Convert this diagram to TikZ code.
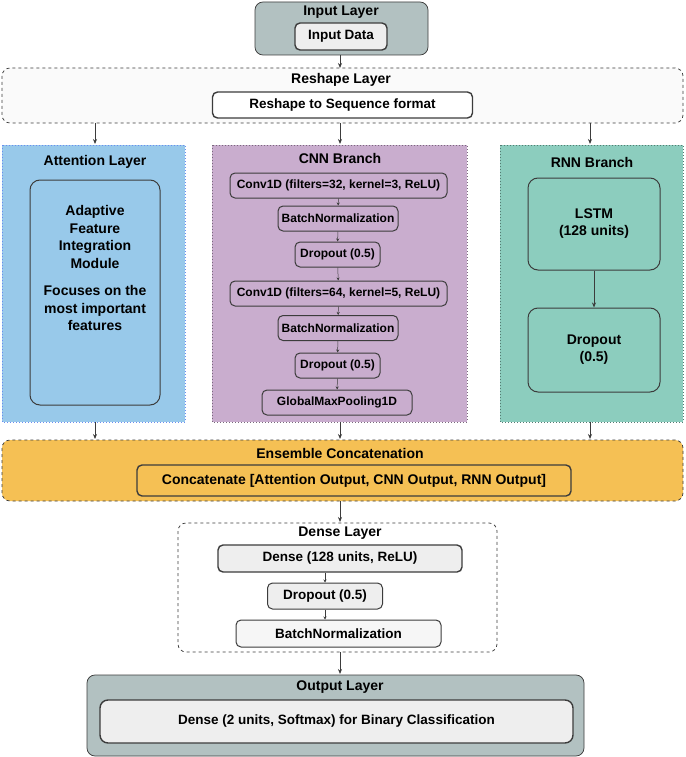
\documentclass[tikz,border=0pt]{standalone}
\usepackage{fontspec}
\setmainfont{Liberation Sans}
\usetikzlibrary{positioning,arrows.meta}

\definecolor{grayteal}{RGB}{178,193,193}
\definecolor{attblue}{RGB}{152,201,234}
\definecolor{cnnpurple}{RGB}{201,173,206}
\definecolor{rnnteal}{RGB}{140,205,190}
\definecolor{ensorange}{RGB}{245,192,84}
\definecolor{boxgray}{RGB}{238,238,238}
\definecolor{edgegray}{RGB}{60,60,60}

\tikzset{every picture/.style={line width=0.75pt}}
\tikzset{
  panel/.style={draw=edgegray, rounded corners=8pt},
  block/.style={draw=edgegray, line width=1.4pt, rounded corners=5pt, fill=boxgray, font=\bfseries\fontsize{13.5}{16}\selectfont},
  cblock/.style={block, line width=1pt, fill=cnnpurple, font=\bfseries\fontsize{12}{14}\selectfont, minimum height=25},
  ttl/.style={font=\bfseries\fontsize{14}{16}\selectfont},
  arr/.style={-{Stealth[length=5pt,width=4pt]}, draw=edgegray, line width=0.8pt},
  sarr/.style={-{Stealth[length=3pt,width=3pt]}, draw=edgegray, line width=0.5pt}
}

\begin{document}
\begin{tikzpicture}[x=1pt,y=1pt,yscale=-1]
	\useasboundingbox (0,0) rectangle (685,757);

	%Panels
	\draw [panel, fill=grayteal] (255,2) rectangle (428,55);
	\draw [panel, dashed, fill=gray!4] (2,68) rectangle (683,123);
	\draw [draw=attblue!70!blue, dotted, line width=1pt, fill=attblue] (2,145) rectangle (185,422);
	\draw [draw=cnnpurple!60!black, dotted, line width=1pt, fill=cnnpurple] (212,145) rectangle (467,422);
	\draw [draw=rnnteal!60!black, dotted, line width=1pt, fill=rnnteal] (500,145) rectangle (683,422);
	\draw [panel, dashed, fill=ensorange] (2,440) rectangle (683,501);
	\draw [panel, dashed, fill=white] (178,523) rectangle (497,652);
	\draw [panel, fill=grayteal] (87,675) rectangle (584,756);

	%Titles
	\node [ttl] (tin) at (341,12) {Input Layer};
	\node [ttl] (tres) at (341,80) {Reshape Layer};
	\node [ttl] (tatt) at (95,162) {Attention Layer};
	\node [ttl] (tcnn) at (340,158) {CNN Branch};
	\node [ttl] (trnn) at (592,162) {RNN Branch};
	\node [ttl] (tens) at (340,453) {Ensemble Concatenation};
	\node [ttl] (tden) at (340,533) {Dense Layer};
	\node [ttl] (tout) at (340,687) {Output Layer};

	%Blocks
	\node [block, minimum width=92, minimum height=27] (indata) at (341,36.5) {Input Data};
	\node [block, fill=white, minimum width=260, minimum height=26] (reshape) at (342.5,105) {Reshape to Sequence format};

	\node [block, line width=1pt, fill=attblue, minimum width=130, minimum height=225, rounded corners=10pt] (attmod) at (95,292.5) {};
	\node [font=\bfseries\fontsize{14}{17.5}\selectfont, align=center, anchor=north] (atttxt) at (95,202) {Adaptive\\Feature\\Integration\\Module\\[10pt]Focuses on the\\most important\\features};

	\node [cblock, minimum width=217] (conva) at (338.5,185.5) {Conv1D (filters=32, kernel=3, ReLU)};
	\node [cblock, minimum width=120] (bna) at (338,218.5) {BatchNormalization};
	\node [cblock, minimum width=85] (dropa) at (337.5,254.5) {Dropout (0.5)};
	\node [cblock, minimum width=217] (convb) at (338.5,293.5) {Conv1D (filters=64, kernel=5, ReLU)};
	\node [cblock, minimum width=120] (bnb) at (338,328) {BatchNormalization};
	\node [cblock, minimum width=85] (dropb) at (337.5,365.5) {Dropout (0.5)};
	\node [cblock, minimum width=150] (gmp) at (337,402.5) {GlobalMaxPooling1D};

	\node [block, line width=1pt, fill=rnnteal, font=\bfseries\fontsize{14}{17}\selectfont, align=center, minimum width=132, minimum height=92, rounded corners=10pt] (lstm) at (594,224) {LSTM\\(128 units)};
	\node [block, line width=1pt, fill=rnnteal, font=\bfseries\fontsize{14}{17}\selectfont, align=center, minimum width=132, minimum height=84, rounded corners=10pt] (droprnn) at (594,350) {Dropout\\(0.5)};

	\node [block, fill=ensorange, font=\bfseries\fontsize{14}{16}\selectfont, minimum width=434, minimum height=31] (concat) at (354,480.5) {Concatenate [Attention Output, CNN Output, RNN Output]};

	\node [block, minimum width=244, minimum height=27] (dense) at (340,558.5) {Dense (128 units, ReLU)};
	\node [block, line width=1pt, minimum width=115, minimum height=26] (dropd) at (325,596) {Dropout (0.5)};
	\node [block, line width=1pt, fill=boxgray!50, minimum width=205, minimum height=27] (bnd) at (338.5,633.5) {BatchNormalization};
	\node [block, minimum width=473, minimum height=43, rounded corners=8pt] (final) at (336.5,721.5) {Dense (2 units, Softmax) for Binary Classification};

	%Connectors
	\coordinate (p1) at (340,55); \coordinate (p2) at (340,68);
	\draw [arr] (p1) -- (p2);
	\foreach \x in {95,340,590}{
		\draw [arr] (\x,123) -- (\x,144);
		\draw [arr] (\x,422) -- (\x,439);
	}
	\draw [sarr] (conva) -- (bna);
	\draw [sarr] (bna) -- (dropa);
	\draw [sarr] (dropa) -- (convb);
	\draw [sarr] (convb) -- (bnb);
	\draw [sarr] (bnb) -- (dropb);
	\draw [sarr] (dropb) -- (gmp);
	\draw [arr] (lstm) -- (droprnn);
	\draw [arr] (340,501) -- (340,522);
	\draw [sarr] (dense.south -| dropd) -- (dropd);
	\draw [sarr] (dropd) -- (dropd |- bnd.north);
	\draw [arr] (340,652) -- (340,674);

\end{tikzpicture}
\end{document}
